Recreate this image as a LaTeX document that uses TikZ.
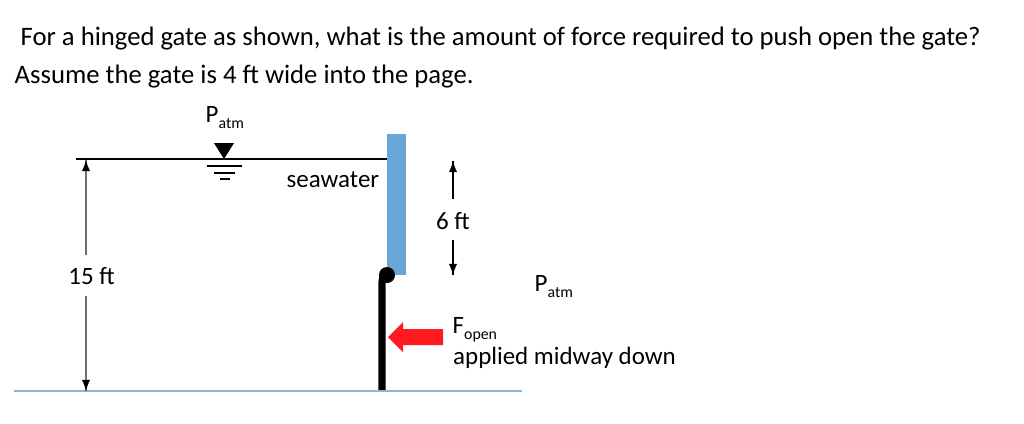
\documentclass[tikz,border=0pt]{standalone}
\usepackage{fontspec}
\setmainfont{Carlito}
\usetikzlibrary{arrows}
\usetikzlibrary{decorations.markings}
\usetikzlibrary{positioning}
\definecolor{mgate}{HTML}{6AA5D8}
\definecolor{mfloor}{HTML}{8FB4DC}
\definecolor{mforce}{HTML}{FF1A22}
\definecolor{mdim}{HTML}{707070}
\tikzset{dimarrow/.style = {line width=0.3pt,
                            decoration={markings,
                                        mark=at position 1 with {\arrow[scale=0.85, black]{latex}}},
                            postaction={decorate}}}
\tikzset{label/.style = {font=\fontsize{7.1pt}{8pt}\selectfont, inner sep=0, anchor=base west}}
\tikzset{question/.style = {font=\fontsize{7.59pt}{9pt}\selectfont, inner sep=0, anchor=base west}}
\tikzset{waterline/.style = {line width=0.55pt}}
\tikzset{symbolline/.style = {line width=0.75pt}}
\newcommand{\lowtext}[1]{\raisebox{-0.55ex}{\fontsize{4.5pt}{6pt}\selectfont #1}}

\begin{document}
\begin{tikzpicture}
    \useasboundingbox (0, 0) rectangle (10.24, -4.23);

    \node [question] (line1) at (0.20, -0.45) {For a hinged gate as shown, what is the amount of force required to push open the gate?};
    \node [question] (line2) at (0.14, -0.83) {Assume the gate is 4 ft wide into the page.};

    % gate and hinge
    \fill [mgate] (3.87, -1.34) rectangle (4.06, -2.75);
    \draw [line width=2pt] (3.82, -3.91) -- (3.82, -2.82) to [out=90, in=180] (3.87, -2.75);
    \fill (3.87, -2.75) circle (0.08);

    % water surface and floor
    \coordinate (surfl) at (0.76, -1.59);
    \coordinate (surfr) at (3.87, -1.59);
    \coordinate (floorl) at (0.14, -3.91);
    \coordinate (floorr) at (5.22, -3.91);
    \draw [waterline] (surfl) -- (surfr);
    \draw [mfloor, line width=0.35pt] (floorl) -- (floorr);

    % surface symbol
    \fill (2.14, -1.43) -- (2.34, -1.43) -- (2.24, -1.59) -- cycle;
    \draw [symbolline] (2.07, -1.66) -- (2.42, -1.66);
    \draw [symbolline] (2.14, -1.73) -- (2.35, -1.73);
    \draw [symbolline] (2.20, -1.79) -- (2.30, -1.79);

    % dimensions
    \node [label, anchor=center] (fifteen) at (0.915, -2.76) {15 ft};
    \coordinate (fifteentop) at (0.86, -1.60);
    \coordinate (fifteenbot) at (0.86, -3.91);
    \draw [dimarrow, mdim] (0.86, -2.55) -- (fifteentop);
    \draw [dimarrow, mdim] (0.86, -2.96) -- (fifteenbot);

    \node [label, anchor=center] (six) at (4.53, -2.21) {6 ft};
    \coordinate (sixtop) at (4.53, -1.61);
    \coordinate (sixbot) at (4.53, -2.75);
    \draw [dimarrow] (4.53, -1.99) -- (sixtop);
    \draw [dimarrow] (4.53, -2.40) -- (sixbot);

    % force
    \fill [mforce] (3.88, -3.37) -- (4.03, -3.22) -- (4.03, -3.29) -- (4.43, -3.29)
                -- (4.43, -3.45) -- (4.03, -3.45) -- (4.03, -3.52) -- cycle;

    \node [label] (patma) at (2.05, -1.22) {P\lowtext{atm}};
    \node [label] (water) at (2.86, -1.875) {seawater};
    \node [label] (patmb) at (5.34, -2.91) {P\lowtext{atm}};
    \node [label] (fopen) at (4.52, -3.33) {F\lowtext{open}};
    \node [label] (midway) at (4.525, -3.64) {applied midway down};
\end{tikzpicture}
\end{document}
